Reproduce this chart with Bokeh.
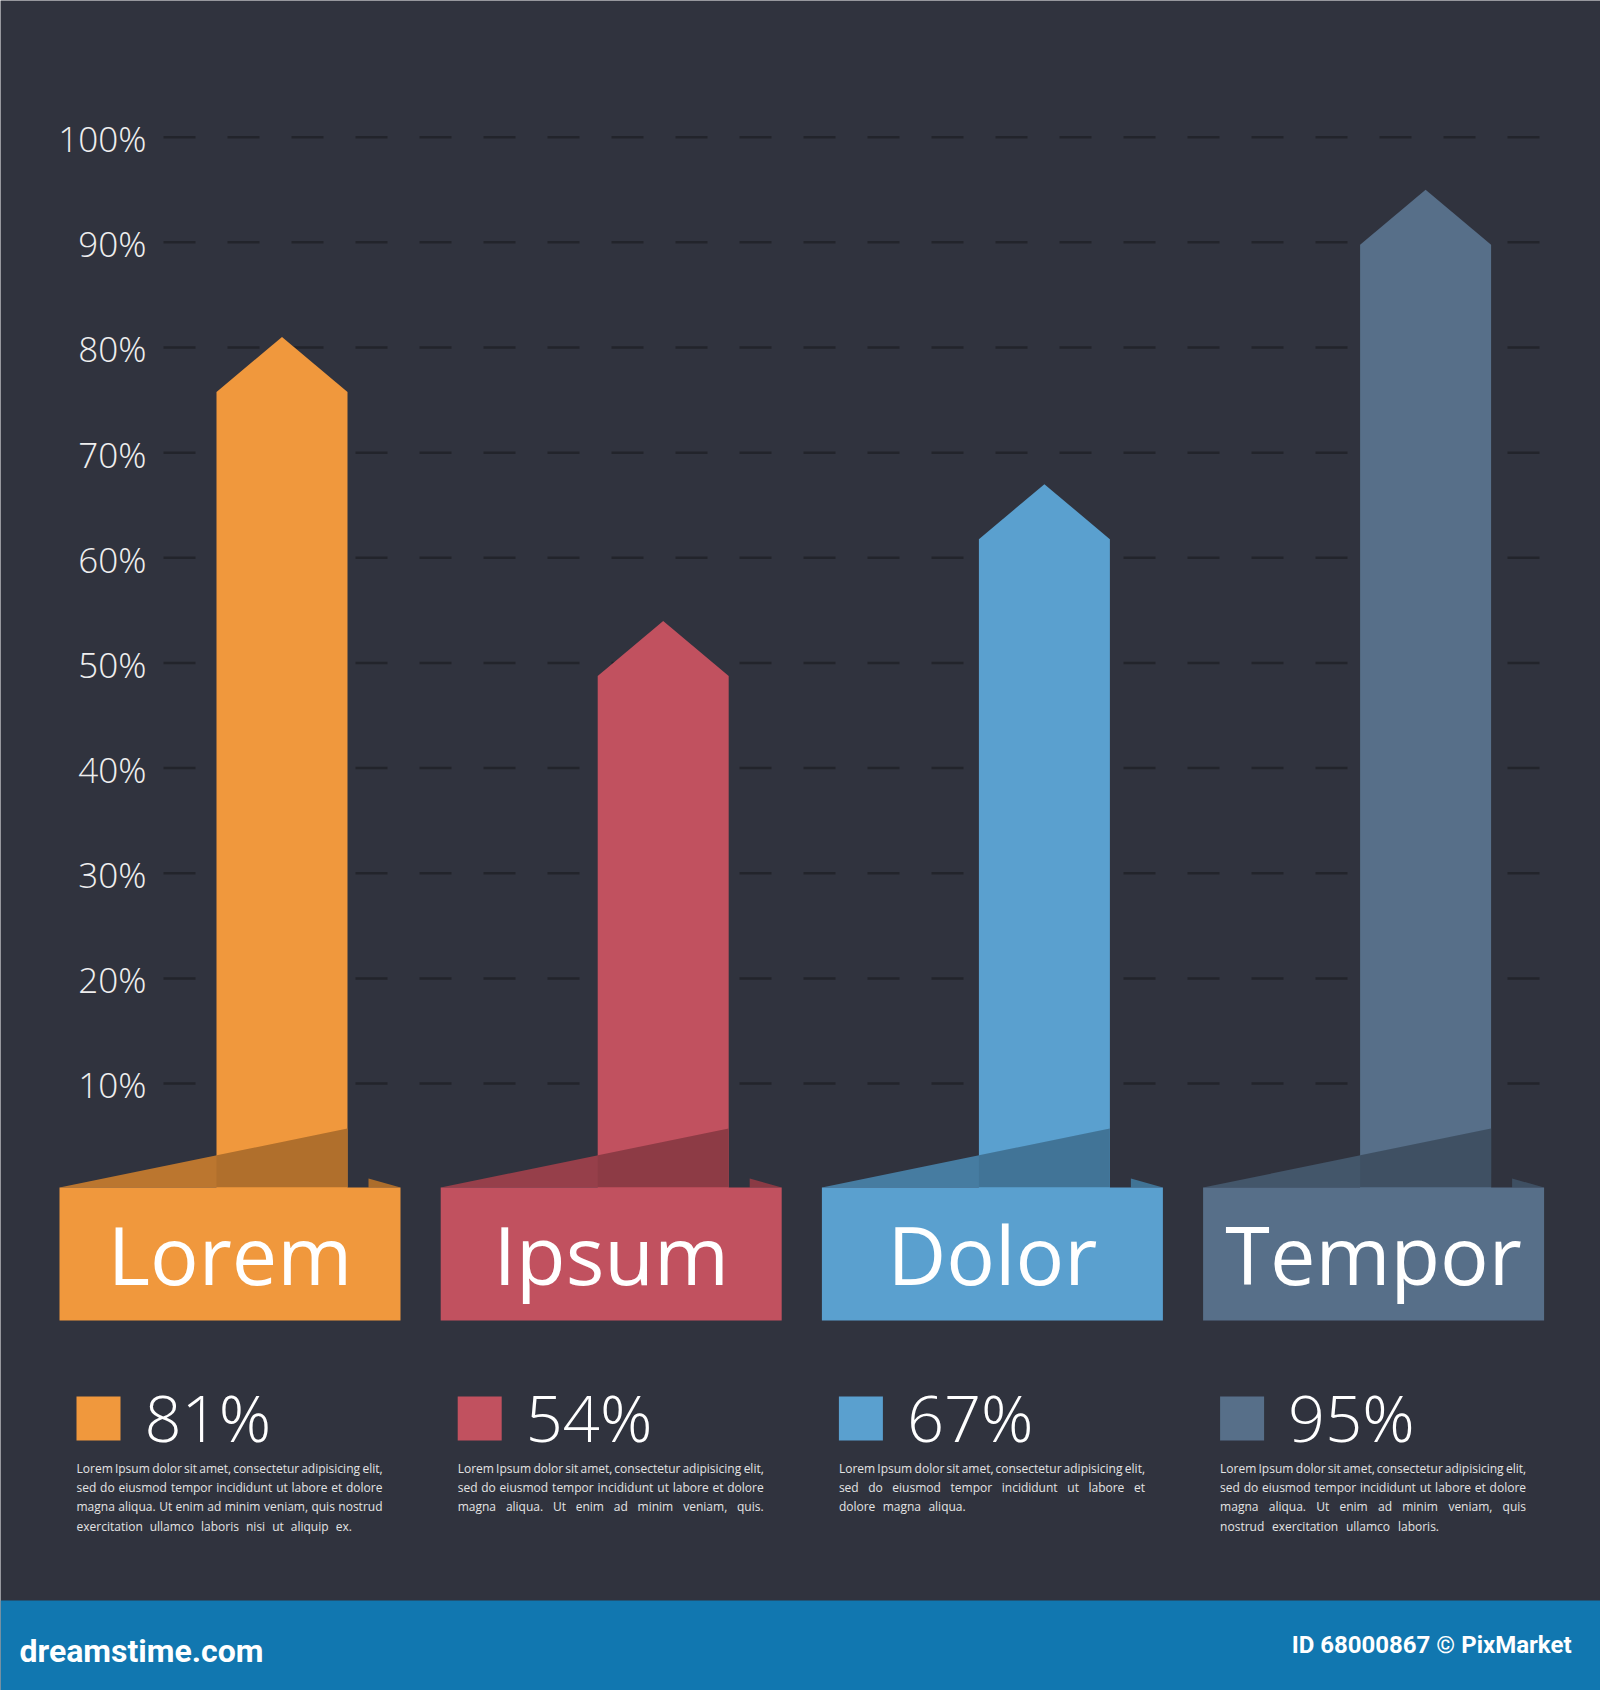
from bokeh.plotting import figure
from bokeh.models import Range1d
from bokeh.core.properties import value
from bokeh.embed import file_html
from bokeh.resources import INLINE

# ---------------- data ----------------
categories = ["Lorem", "Ipsum", "Dolor", "Tempor"]
percentages = [81, 54, 67, 95]
bar_colors = ["#F0983D", "#C1515F", "#5AA0CF", "#576F89"]
tick_values = [10, 20, 30, 40, 50, 60, 70, 80, 90, 100]
tick_labels = ["10%", "20%", "30%", "40%", "50%", "60%", "70%", "80%", "90%", "100%"]
value_labels = ["81%", "54%", "67%", "95%"]
descriptions = [
    ["Lorem Ipsum dolor sit amet, consectetur adipisicing elit,",
     "sed do eiusmod tempor incididunt ut labore et dolore",
     "magna aliqua. Ut enim ad minim veniam, quis nostrud",
     "exercitation ullamco laboris nisi ut aliquip ex."],
    ["Lorem Ipsum dolor sit amet, consectetur adipisicing elit,",
     "sed do eiusmod tempor incididunt ut labore et dolore",
     "magna aliqua. Ut enim ad minim veniam, quis."],
    ["Lorem Ipsum dolor sit amet, consectetur adipisicing elit,",
     "sed do eiusmod tempor incididunt ut labore et",
     "dolore magna aliqua."],
    ["Lorem Ipsum dolor sit amet, consectetur adipisicing elit,",
     "sed do eiusmod tempor incididunt ut labore et dolore",
     "magna aliqua. Ut enim ad minim veniam, quis",
     "nostrud exercitation ullamco laboris."],
]
footer_left = "dreamstime.com"
footer_right = "ID 68000867 \u00a9 PixMarket"

# ---------------- layout / style ----------------
BG = "#30333E"
GRID = "#22242B"
FOOTER = "#1177B0"
Y0 = 1188.2      # pixel row of 0 %
PPU = 10.515     # pixels per percent
BASE_FIX = 0.36  # baseline correction (em)


def py(pix):
    return (Y0 - pix) / PPU


def darker(hex_color, f):
    h = hex_color.lstrip("#")
    r, g, b = (int(h[i:i + 2], 16) for i in (0, 2, 4))
    return "#%02x%02x%02x" % (int(r * f), int(g * f), int(b * f))


LIGHT = value("'Open Sans Light', 'Open Sans'")
OPEN = value("Open Sans")

p = figure(width=1600, height=1690, x_range=Range1d(0, 1600),
           y_range=Range1d(py(1690), py(0)),
           x_axis_location=None, y_axis_location=None,
           output_backend="svg", toolbar_location=None, min_border=0)
p.grid.visible = False
p.outline_line_color = None
p.background_fill_color = BG
p.border_fill_color = BG

# dashed grid lines
p.segment(x0=[163] * len(tick_values), x1=[1545] * len(tick_values),
          y0=tick_values, y1=tick_values, line_color=GRID, line_width=2.5,
          line_dash="32 32")

# y tick labels
p.text(x=[146] * len(tick_values), y=tick_values, text=tick_labels,
       text_align="right", text_baseline="alphabetic", y_offset=14 - BASE_FIX * 35,
       text_font=LIGHT, text_font_size="35px", text_color="#EEEEEE")

CX0, STEP, HALF, SHOULDER = 281.5, 381.2, 65.5, 55.0
BOX_L, BOX_R = 222.5, 118.5

# char widths of Open Sans (em) for justified paragraphs
CW = {' ': 0.26, 'a': 0.556, 'b': 0.613, 'c': 0.476, 'd': 0.613, 'e': 0.561, 'f': 0.336,
      'g': 0.546, 'h': 0.615, 'i': 0.258, 'j': 0.258, 'k': 0.529, 'l': 0.258, 'm': 0.935,
      'n': 0.615, 'o': 0.602, 'p': 0.613, 'q': 0.613, 'r': 0.408, 's': 0.477, 't': 0.352,
      'u': 0.615, 'v': 0.5, 'w': 0.775, 'x': 0.523, 'y': 0.5, 'z': 0.469, ',': 0.243,
      '.': 0.266, 'L': 0.52, 'I': 0.293, 'U': 0.73}
PFS = 12.0
PARA_W = 306
last_fill = [0.90, 1.0, 0.415, 0.716]


def wwidth(w):
    return sum(CW.get(c, 0.55) for c in w) * PFS


for i, (cat, v, col) in enumerate(zip(categories, percentages, bar_colors)):
    cx = CX0 + i * STEP
    l, r = cx - HALF, cx + HALF
    sh = v - SHOULDER / PPU
    p.patch([l, l, cx, r, r], [0, sh, v, sh, 0], fill_color=col, line_color=None)

    bl, br = cx - BOX_L, cx + BOX_R
    # fold
    p.patch([bl, r, r], [py(1187), py(1128), py(1187)], fill_color=darker(col, 0.78),
            line_color=None)
    yl = 1187 - 59 * (l - bl) / (r - bl)
    p.patch([l, r, r, l], [py(yl), py(1128), py(1187), py(1187)],
            fill_color="black", fill_alpha=0.06, line_color=None)
    # right tab
    p.patch([br - 32, br - 32, br], [py(1178), py(1187), py(1187)],
            fill_color=darker(col, 0.72), line_color=None)
    # box
    p.quad(left=bl, right=br, top=py(1187), bottom=py(1320), fill_color=col, line_color=None)
    p.text(x=[(bl + br) / 2], y=[py(1282)], text=[cat], text_align="center",
           text_baseline="alphabetic", y_offset=-BASE_FIX * 81,
           text_font=OPEN, text_font_size="81px", text_color="white")

    # legend square & value
    p.quad(left=bl + 17, right=bl + 61, top=py(1396), bottom=py(1440), fill_color=col,
           line_color=None)
    p.text(x=[bl + 85], y=[py(1440)], text=[value_labels[i]], text_align="left",
           text_baseline="alphabetic", y_offset=-BASE_FIX * 65,
           text_font=LIGHT, text_font_size="65px", text_color="white")

    # justified paragraph
    xs, ys, ts = [], [], []
    lines = descriptions[i]
    for k, line in enumerate(lines):
        words = line.split(" ")
        target = PARA_W * (last_fill[i] if k == len(lines) - 1 else 1.0)
        widths = [wwidth(w) for w in words]
        gap = (target - sum(widths)) / max(len(words) - 1, 1)
        x = bl + 17
        for w, ww in zip(words, widths):
            xs.append(x)
            ys.append(py(1472 + k * 19.3))
            ts.append(w)
            x += ww + gap
    p.text(x=xs, y=ys, text=ts, text_align="left", text_baseline="alphabetic",
           y_offset=-BASE_FIX * PFS,
           text_font=OPEN, text_font_size="12px", text_color="#E4E4E4")

# footer band
p.quad(left=0, right=1600, top=py(1600), bottom=py(1690), fill_color=FOOTER, line_color=None)
p.text(x=[19], y=[py(1662)], text=[footer_left], text_align="left",
       text_baseline="alphabetic", y_offset=-BASE_FIX * 32,
       text_font=value("Roboto"), text_font_style="bold", text_font_size="32px",
       text_color="white")
p.text(x=[1571], y=[py(1653)], text=[footer_right], text_align="right",
       text_baseline="alphabetic", y_offset=-BASE_FIX * 24,
       text_font=value("Roboto"), text_font_style="bold",
       text_font_size="24px", text_color="white")

open("out.html", "w").write(file_html(p, INLINE))
